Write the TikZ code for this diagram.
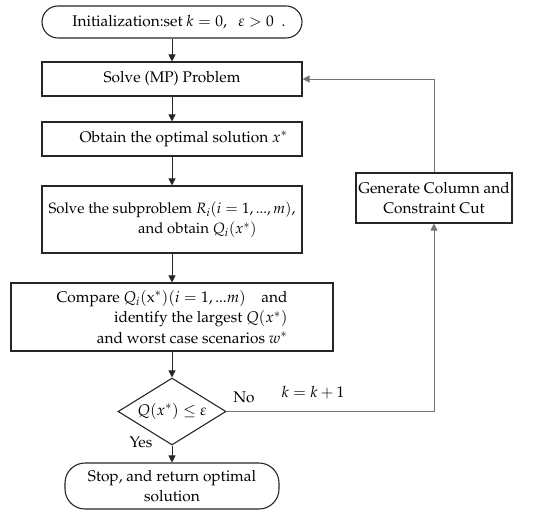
\documentclass[tikz,border=0pt]{standalone}
\usepackage[T1]{fontenc}
\usepackage{mathpazo}
\usetikzlibrary{shapes.geometric,arrows.meta}
\begin{document}
\begin{tikzpicture}[x=1bp,y=-1bp,
  every node/.style={font=\fontsize{15.5}{20.5}\selectfont},
  box/.style={draw=black!85,line width=1.1bp,rectangle,inner sep=0pt},
  term/.style={draw=black!85,line width=1.1bp,rounded corners=16bp,inner sep=0pt},
  flow/.style={draw=black!85,line width=0.8bp,-{Triangle[length=7bp,width=7bp]}},
  back/.style={draw=black!55,line width=0.8bp,-{Triangle[length=7bp,width=7bp]}},
  lbl/.style={inner sep=0pt}]
\useasboundingbox (0,0) rectangle (550,516);
\node[term,minimum width=260bp,minimum height=32bp] (init) at (172,22) {\hspace{0.9em}Initialization:set $k=0$,\ \ \ $\varepsilon>0$\ \ .};
\node[box,minimum width=260bp,minimum height=34bp] (mp) at (172,79) {Solve (MP) Problem};
\node[box,minimum width=260bp,minimum height=34bp] (obt) at (172,139) {\hspace{1.5em}Obtain the optimal solution $x^{*}$};
\node[box,minimum width=260bp,minimum height=67bp,align=center,font=\fontsize{15}{20.5}\selectfont] (sub) at (172,219.5) {Solve the subproblem $R_{i}(i=1,...,m)$,\\\hspace{3.4em}and obtain $Q_{i}(x^{*})$};
\node[box,minimum width=322bp,minimum height=68bp,align=right] (cmp) at (172,317) {Compare $Q_{i}(\mathrm{x}^{*})(i=1,...m)$\quad and\\identify the largest $Q(x^{*})$\\and worst case scenarios $w^{*}$};
\node[draw=black!85,line width=1.1bp,diamond,aspect=1.6,inner sep=0pt,minimum width=108bp,minimum height=67bp] (dec) at (172,411.5) {$Q(x^{*})\le\varepsilon$};
\node[term,minimum width=214bp,minimum height=46bp,align=center,rounded corners=20bp] (stop) at (172,486) {Stop, and return optimal\\solution};
\node[box,minimum width=156bp,minimum height=50bp,align=center] (gen) at (434,198) {Generate Column and\\Constraint Cut};
\draw[flow] (init) -- (mp);
\draw[flow] (mp) -- (obt);
\draw[flow] (obt) -- (sub);
\draw[flow] (sub) -- (cmp);
\draw[flow] (cmp) -- (dec);
\draw[flow] (dec) -- (stop);
\draw[back] (dec.east) -| (gen.south);
\draw[back] (gen.north) |- (mp.east);
\node[lbl] (no) at (244,397) {No};
\node[lbl] (kk) at (313,393) {$k=k+1$};
\node[lbl] (yes) at (141,442) {Yes};
\end{tikzpicture}
\end{document}
